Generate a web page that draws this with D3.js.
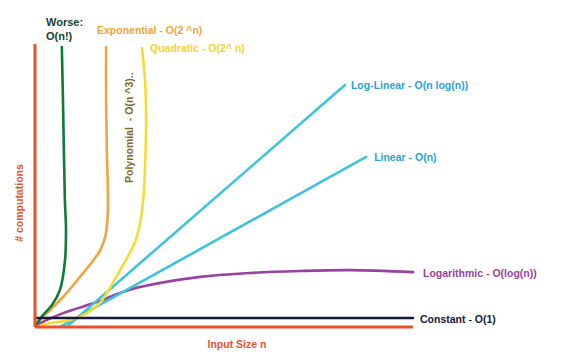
<!DOCTYPE html>
<html lang="en">
<head>
  <meta charset="UTF-8">
  <title>Big O Complexity</title>
  <script src="https://d3js.org/d3.v7.min.js"></script>
  <style>
    body { margin: 0; background: #fff; }
    svg text { font-family: Arial, "Liberation Sans", sans-serif; font-weight: bold; font-size: 10.5px; }
  </style>
</head>
<body>
  <svg width="588" height="361"></svg>
  <script>
    // curve points, in chart units (x: input size 0-100, y: computations 0-100)
    const factorial   = [[0.3,0.7],[2.1,4.2],[4.5,7.8],[6.6,13.1],[7.9,23.0],[8.2,34.3],[7.9,44.9],[7.4,80.2],[7.1,98.9]];
    const exponential = [[0.3,0.7],[1.3,2.5],[4.0,6.0],[7.4,10.6],[11.9,17.7],[15.0,22.8],[17.2,27.0],[18.6,32.0],[19.2,38.5],[19.3,46.0],[19.0,62.5],[18.8,80.2],[18.8,98.9]];
    const quadratic   = [[1.3,0.4],[4.0,1.4],[9.3,2.5],[13.8,4.9],[17.2,8.5],[19.8,13.8],[22.5,20.1],[24.6,25.0],[26.6,30.5],[27.9,37.5],[28.7,46.0],[29.2,60.0],[29.4,73.1],[29.1,87.3],[28.3,98.6]];
    const logLinear   = [[8.7,0.4],[82.0,85.5]];
    const linear      = [[7.1,0.4],[87.6,60.1]];
    const logarithmic = [[0.3,0.7],[7.4,4.9],[16.4,8.8],[22.5,12.0],[27.8,14.1],[43.7,17.7],[56.9,19.1],[70.1,19.8],[83.3,20.1],[100,19.4]];
    const constant    = [[0,3.2],[100,3.2]];

    const series = [
      { name: "logarithmic", data: logarithmic, color: "#9b3fa0" },
      { name: "linear", data: linear, color: "#3ec3dc" },
      { name: "logLinear", data: logLinear, color: "#3ec3dc" },
      { name: "quadratic", data: quadratic, color: "#f6dc2e" },
      { name: "exponential", data: exponential, color: "#f0a53c" },
      { name: "factorial", data: factorial, color: "#0e7a3c" },
      { name: "constant", data: constant, color: "#15183a" }
    ];

    const svg = d3.select("svg");
    const x = d3.scaleLinear().domain([0, 100]).range([35, 413]);
    const y = d3.scaleLinear().domain([0, 100]).range([327, 44]);

    const line = d3.line()
      .x(d => x(d[0]))
      .y(d => y(d[1]))
      .curve(d3.curveCatmullRom.alpha(0.5));

    svg.selectAll(".curve")
      .data(series)
      .enter().append("path")
      .attr("class", "curve")
      .attr("fill", "none")
      .attr("stroke", d => d.color)
      .attr("stroke-width", 2.6)
      .attr("stroke-linecap", "round")
      .attr("d", d => line(d.data));

    // axes, drawn as plain lines without ticks
    const axisColor = "#e8532c";
    svg.append("line")
      .attr("x1", x(0)).attr("x2", x(0))
      .attr("y1", y(0)).attr("y2", y(100))
      .attr("stroke", axisColor).attr("stroke-width", 3);
    svg.append("line")
      .attr("x1", x(0)).attr("x2", x(100))
      .attr("y1", y(0)).attr("y2", y(0))
      .attr("stroke", axisColor).attr("stroke-width", 3);

    function label(txt, px, py, color, size) {
      return svg.append("text")
        .attr("x", px).attr("y", py)
        .attr("fill", color)
        .style("font-size", (size || 10.5) + "px")
        .text(txt);
    }

    label("Worse:", 46, 26, "#153f38", 11);
    label("O(n!)", 46, 40, "#153f38", 11);
    label("Exponential - O(2 ^n)", 97, 34, "#f0a53c");
    label("Quadratic - O(2^ n)", 150, 52, "#f6d22a");
    label("Log-Linear - O(n log(n))", x(82.0) + 6, y(85.5) + 4, "#2aa3d8");
    label("Linear - O(n)", x(87.6) + 8, y(60.1) + 4, "#2aa3d8");
    label("Logarithmic - O(log(n))", x(100) + 10, y(19.4) + 5, "#9b3fa0");
    label("Constant - O(1)", x(100) + 7, y(3.2) + 5, "#15183a");

    svg.append("text")
      .attr("transform", "translate(133,183) rotate(-90)")
      .attr("fill", "#7d6b22")
      .attr("xml:space", "preserve")
      .text("Polynomial  - O(n ^3)..");

    svg.append("text")
      .attr("x", (x(0) + x(100)) / 2 + 13).attr("y", 348)
      .attr("text-anchor", "middle")
      .attr("fill", axisColor)
      .text("Input Size n");

    svg.append("text")
      .attr("transform", "translate(23,203) rotate(-90)")
      .attr("text-anchor", "middle")
      .attr("fill", axisColor)
      .text("# computations");
  </script>
</body>
</html>
